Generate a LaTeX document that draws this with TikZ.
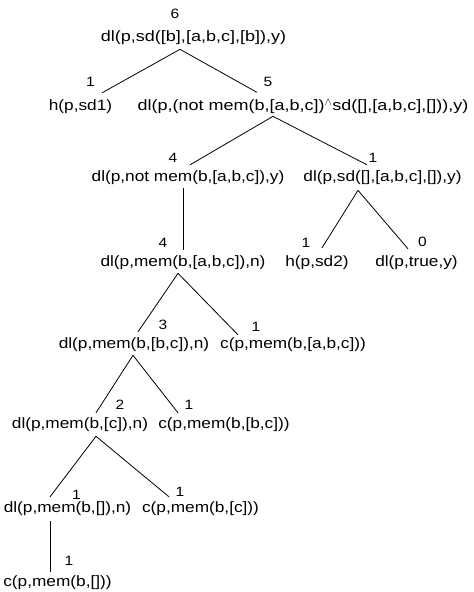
\documentclass[tikz,border=0pt]{standalone}
\usepackage{fontspec}
\usepackage{tikz}
\usetikzlibrary{positioning}
\newfontfamily\treefont[FakeStretch=1.15]{Liberation Sans}
\newfontfamily\widefont[FakeStretch=1.2]{Liberation Sans}

\begin{document}
\begin{tikzpicture}[
    x=1pt, y=-1pt,
    term/.style={anchor=base, inner sep=0pt, font=\treefont\fontsize{15}{17}\selectfont},
    wideterm/.style={term, font=\widefont\fontsize{15}{17}\selectfont},
    count/.style={inner sep=0pt, font=\treefont\fontsize{13.5}{15}\selectfont},
    branch/.style={draw=black, line width=0.8pt}
]
\useasboundingbox (0,0) rectangle (474,592);

% terms, row by row
\node[wideterm] (root) at (193.5,41.4) {dl(p,sd([b],[a,b,c],[b]),y)};
\node[term] (hsdone) at (80.5,110.4) {h(p,sd1)};
\node[wideterm] (conj) at (303,110.4) {dl(p,(not mem(b,[a,b,c])$^\wedge$sd([],[a,b,c],[])),y)};
\node[term] (notmem) at (188,181.4) {dl(p,not mem(b,[a,b,c]),y)};
\node[term] (sdnil) at (382.5,181.4) {dl(p,sd([],[a,b,c],[]),y)};
\node[term] (memabc) at (183,266.4) {dl(p,mem(b,[a,b,c]),n)};
\node[term] (hsdtwo) at (317,266.4) {h(p,sd2)};
\node[term] (dltrue) at (416.5,266.4) {dl(p,true,y)};
\node[term] (membc) at (134,348.4) {dl(p,mem(b,[b,c]),n)};
\node[term] (cabc) at (293,348.4) {c(p,mem(b,[a,b,c]))};
\node[term] (memc) at (80,428.4) {dl(p,mem(b,[c]),n)};
\node[term] (cbc) at (224,428.4) {c(p,mem(b,[b,c]))};
\node[term] (memnil) at (67.5,512.9) {dl(p,mem(b,[]),n)};
\node[term] (cc) at (200.5,512.9) {c(p,mem(b,[c]))};
\node[term] (cnil) at (57.5,586.1) {c(p,mem(b,[]))};

% counts
\node[count] (wroot) [above=11.1pt of root, xshift=-18.5pt] {6};
\node[count] (whsdone) [above=12.3pt of hsdone, xshift=10pt] {1};
\node[count] (wconj) [above=12.3pt of conj, xshift=-35pt] {5};
\node[count] (wnotmem) [above=8.1pt of notmem, xshift=-15pt] {4};
\node[count] (wsdnil) [above=8.1pt of sdnil, xshift=-9.5pt] {1};
\node[count] (wmemabc) [above=8.1pt of memabc, xshift=-20pt] {4};
\node[count] (whsdtwo) [above=8.1pt of hsdtwo, xshift=-11pt] {1};
\node[count] (wdltrue) [above=8.1pt of dltrue, xshift=6pt] {0};
\node[count] (wmembc) [above=7.6pt of membc, xshift=29pt] {3};
\node[count] (wcabc) [above=6.1pt of cabc, xshift=-37pt] {1};
\node[count] (wmemc) [above=8.1pt of memc, xshift=40pt] {2};
\node[count] (wcbc) [above=8.1pt of cbc, xshift=-35pt] {1};
\node[count] (wmemnil) [above=2.6pt of memnil, xshift=9pt] {1};
\node[count] (wcc) [above=5.6pt of cc, xshift=-20.5pt] {1};
\node[count] (wcnil) [above=9.1pt of cnil, xshift=11.5pt] {1};

% branches
\draw[branch] ([xshift=-13.5pt,yshift=-4.6pt]root.south) -- ([xshift=21.5pt,yshift=6.5pt]hsdone.north);
\draw[branch] ([xshift=-13.5pt,yshift=-4.6pt]root.south) -- ([xshift=-46pt,yshift=6.5pt]conj.north);
\draw[branch] ([xshift=-30pt,yshift=-2.6pt]conj.south) -- ([xshift=2pt,yshift=5.5pt]notmem.north);
\draw[branch] ([xshift=-30pt,yshift=-2.6pt]conj.south) -- ([xshift=-15.5pt,yshift=5.5pt]sdnil.north);
\draw[branch] ([xshift=-5pt,yshift=-3.6pt]notmem.south) -- ([yshift=5.5pt]memabc.north);
\draw[branch] ([xshift=-24.5pt,yshift=-5.6pt]sdnil.south) -- ([xshift=5pt,yshift=7.5pt]hsdtwo.north);
\draw[branch] ([xshift=-24.5pt,yshift=-5.6pt]sdnil.south) -- ([xshift=-8.5pt,yshift=6.5pt]dltrue.north);
\draw[branch] ([xshift=-5pt,yshift=-3.6pt]memabc.south) -- ([xshift=4pt,yshift=5.5pt]membc.north);
\draw[branch] ([xshift=-5pt,yshift=-3.6pt]memabc.south) -- ([xshift=-55pt,yshift=2.5pt]cabc.north);
\draw[branch] ([xshift=-1pt,yshift=-3.6pt]membc.south) -- ([xshift=16pt,yshift=4.5pt]memc.north);
\draw[branch] ([xshift=-1pt,yshift=-3.6pt]membc.south) -- ([xshift=-46pt,yshift=4.5pt]cbc.north);
\draw[branch] ([xshift=16pt,yshift=-4.6pt]memc.south) -- ([xshift=-17.5pt,yshift=5pt]memnil.north);
\draw[branch] ([xshift=16pt,yshift=-4.6pt]memc.south) -- ([xshift=-31.5pt,yshift=5pt]cc.north);
\draw[branch] ([xshift=-17.5pt,yshift=-5.1pt]memnil.south) -- ([xshift=-7.5pt,yshift=3.2pt]cnil.north);
\end{tikzpicture}
\end{document}
